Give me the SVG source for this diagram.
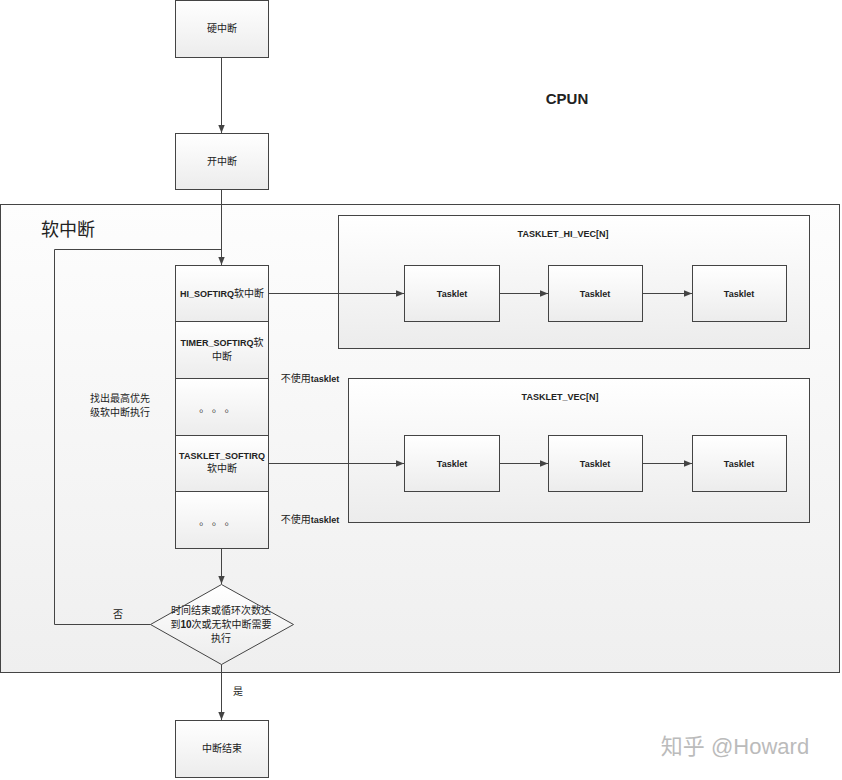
<svg xmlns="http://www.w3.org/2000/svg" width="842" height="780" viewBox="0 0 842 780">
<style>
text{font-family:"Liberation Sans","Noto Sans CJK SC",sans-serif;font-size:10px;fill:#222;text-anchor:middle}
.b{font-weight:bold}
.n{fill:url(#g);stroke:#444;stroke-width:1}
.c{fill:none;stroke:#444;stroke-width:1}
</style>
<defs>
<linearGradient id="g" x1="0" y1="0" x2="0" y2="1"><stop offset="0" stop-color="#fff"/><stop offset="1" stop-color="#ececec"/></linearGradient>
<linearGradient id="g2" x1="0" y1="0" x2="0" y2="1"><stop offset="0" stop-color="#fdfdfd"/><stop offset="1" stop-color="#efefef"/></linearGradient>
<marker id="a" viewBox="0 0 10 10" refX="10" refY="5" markerWidth="8" markerHeight="8" orient="auto"><path d="M0,1 L10,5 L0,9z" fill="#444"/></marker>
</defs>
<rect width="842" height="780" fill="#fff"/>
<g id="softirq-container"><rect x="0.5" y="204.5" width="839" height="468" fill="url(#g2)" stroke="#444"/><text x="68" y="236" style="font-size:18px">软中断</text></g>
<g id="hi-vec"><rect x="338.5" y="215.5" width="471" height="133" class="n"/><text x="563" y="237" class="b" style="font-size:9px">TASKLET_HI_VEC[N]</text></g>
<g id="vec"><rect x="348.5" y="378.5" width="461" height="144" class="n"/><text x="560" y="400" class="b" style="font-size:9px">TASKLET_VEC[N]</text></g>
<g id="title"><text x="567" y="104" class="b" style="font-size:15px">CPUN</text></g>
<g id="hard"><rect x="175.5" y="0.5" width="93" height="57" class="n"/><text x="222" y="32">硬中断</text></g>
<g id="open"><rect x="175.5" y="133.5" width="93" height="56" class="n"/><text x="222" y="165">开中断</text></g>
<g id="hi"><rect x="175.5" y="265.5" width="93" height="56" class="n"/><text x="222" y="297" class="b" style="font-size:9px">HI_SOFTIRQ<tspan font-weight="normal" style="font-size:10px">软中断</tspan></text></g>
<g id="timer"><rect x="175.5" y="321.5" width="93" height="57" class="n"/><text x="222" y="346" class="b" style="font-size:9px">TIMER_SOFTIRQ<tspan font-weight="normal" style="font-size:10px">软</tspan></text><text x="222" y="360">中断</text></g>
<g id="dots1"><rect x="175.5" y="378.5" width="93" height="57" class="n"/><text x="217" y="412">。 。 。</text></g>
<g id="tasklet-softirq"><rect x="175.5" y="435.5" width="93" height="56" class="n"/><text x="222" y="459" class="b" style="font-size:9px">TASKLET_SOFTIRQ</text><text x="222" y="472">软中断</text></g>
<g id="dots2"><rect x="175.5" y="491.5" width="93" height="57" class="n"/><text x="217" y="525">。 。 。</text></g>
<g id="decision"><path d="M221.5,584.5 L293.5,624.5 L221.5,664.5 L150.5,624.5z" class="n"/><text x="221" y="614">时间结束或循环次数达</text><text x="221" y="628">到<tspan class="b">10</tspan>次或无软中断需要</text><text x="221" y="642">执行</text></g>
<g id="end"><rect x="175.5" y="720.5" width="93" height="57" class="n"/><text x="222" y="752">中断结束</text></g>
<g id="t1"><rect x="404.5" y="265.5" width="95" height="56" class="n"/><text x="452" y="297" class="b" style="font-size:9px">Tasklet</text></g>
<g id="t2"><rect x="548.5" y="265.5" width="94" height="56" class="n"/><text x="595" y="297" class="b" style="font-size:9px">Tasklet</text></g>
<g id="t3"><rect x="692.5" y="265.5" width="94" height="56" class="n"/><text x="739" y="297" class="b" style="font-size:9px">Tasklet</text></g>
<g id="t4"><rect x="404.5" y="435.5" width="95" height="56" class="n"/><text x="452" y="467" class="b" style="font-size:9px">Tasklet</text></g>
<g id="t5"><rect x="548.5" y="435.5" width="94" height="56" class="n"/><text x="595" y="467" class="b" style="font-size:9px">Tasklet</text></g>
<g id="t6"><rect x="692.5" y="435.5" width="94" height="56" class="n"/><text x="739" y="467" class="b" style="font-size:9px">Tasklet</text></g>
<g id="labels">
<text x="120" y="402">找出最高优先</text><text x="120" y="416">级软中断执行</text>
<text x="310" y="382">不使用<tspan class="b" style="font-size:9px">tasklet</tspan></text>
<text x="310" y="523">不使用<tspan class="b" style="font-size:9px">tasklet</tspan></text>
<text x="118" y="618">否</text><text x="238" y="695">是</text>
<text x="735" y="754" style="font-size:22px;fill:#bbb">知乎 @Howard</text>
</g>
<g id="connectors">
<path d="M221.5,57.5V133" class="c" marker-end="url(#a)"/>
<path d="M221.5,189.5V265" class="c" marker-end="url(#a)"/>
<path d="M150.5,624.5H54.5V249.5H221.5" class="c"/>
<path d="M268.5,293.5H404" class="c" marker-end="url(#a)"/>
<path d="M499.5,293.5H548" class="c" marker-end="url(#a)"/>
<path d="M642.5,293.5H692" class="c" marker-end="url(#a)"/>
<path d="M268.5,463.5H404" class="c" marker-end="url(#a)"/>
<path d="M499.5,463.5H548" class="c" marker-end="url(#a)"/>
<path d="M642.5,463.5H692" class="c" marker-end="url(#a)"/>
<path d="M221.5,548.5V584" class="c" marker-end="url(#a)"/>
<path d="M221.5,664.5V720" class="c" marker-end="url(#a)"/>
</g>
</svg>
